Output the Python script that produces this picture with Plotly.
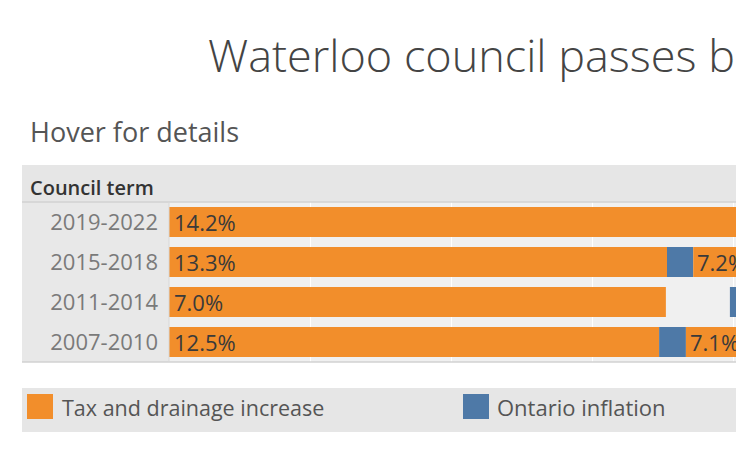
import plotly.graph_objects as go

# ---- data ----
terms = ["2019-2022", "2015-2018", "2011-2014", "2007-2010"]
tax_increase_labels = ["14.2%", "13.3%", "7.0%", "12.5%"]
inflation_labels = ["", "7.2%", "", "7.1%"]
# bar extents as drawn in the (mid-transition) picture, in axis units (%)
tax_bar_len = [21.0, 17.66, 17.62, 17.38]
infl_start = [None, 17.66, 19.89, 17.38]
infl_width = [0, 0.93, 1.2, 0.95]
trail_len = [0, 3.0, 0, 3.0]

ORANGE = "#f28e2b"
BLUE = "#4e79a7"
W, H = 736, 454
FONT = "Open Sans"


def px(x):
    return x / W


def py(y):
    return 1 - y / H


fig = go.Figure()
fig.add_trace(go.Bar(y=terms, x=tax_bar_len, base=0, orientation="h",
                     marker=dict(color=ORANGE, line=dict(width=0)),
                     width=0.75, hoverinfo="skip", name="Tax and drainage increase"))
fig.add_trace(go.Bar(y=terms, x=infl_width, base=[b if b is not None else 0 for b in infl_start],
                     orientation="h", marker=dict(color=BLUE, line=dict(width=0)),
                     width=0.75, hoverinfo="skip", name="Ontario inflation"))
trail_base = [(s + w) if s is not None else 0 for s, w in zip(infl_start, infl_width)]
fig.add_trace(go.Bar(y=terms, x=trail_len, base=trail_base, orientation="h",
                     marker=dict(color=ORANGE, line=dict(width=0)),
                     width=0.75, hoverinfo="skip", showlegend=False))

annotations = []
for t, lab in zip(terms, tax_increase_labels):
    annotations.append(dict(x=0, y=t, xref="x", yref="y", text=lab, showarrow=False,
                            xanchor="left", xshift=3, font=dict(family=FONT, size=22, color="#3a3a3a")))
for t, lab, b in zip(terms, inflation_labels, trail_base):
    if lab:
        annotations.append(dict(x=b, y=t, xref="x", yref="y", text=lab, showarrow=False,
                                xanchor="left", xshift=2, font=dict(family=FONT, size=22, color="#3a3a3a")))

# titles and headers
annotations += [
    dict(x=px(206), y=py(54), xref="paper", yref="paper", text="Waterloo council passes b",
         showarrow=False, xanchor="left", yanchor="middle",
         font=dict(family=FONT, size=45, color="#444444", weight=300)),
    dict(x=px(28), y=py(131), xref="paper", yref="paper", text="Hover for details",
         showarrow=False, xanchor="left", yanchor="middle",
         font=dict(family=FONT, size=27, color="#555555")),
    dict(x=px(28), y=py(187), xref="paper", yref="paper", text="Council term",
         showarrow=False, xanchor="left", yanchor="middle",
         font=dict(family=FONT, size=20, color="#333333", weight=600)),
    dict(x=px(60), y=py(407), xref="paper", yref="paper", text="Tax and drainage increase",
         showarrow=False, xanchor="left", yanchor="middle",
         font=dict(family=FONT, size=21.5, color="#555555")),
    dict(x=px(495), y=py(407), xref="paper", yref="paper", text="Ontario inflation",
         showarrow=False, xanchor="left", yanchor="middle",
         font=dict(family=FONT, size=22, color="#555555")),
]

shapes = [
    dict(type="rect", xref="paper", yref="paper", x0=px(22), x1=1, y0=py(202), y1=py(165),
         fillcolor="#e6e6e6", line=dict(width=0), layer="below"),
    dict(type="rect", xref="paper", yref="paper", x0=px(22), x1=px(169), y0=py(362), y1=py(202),
         fillcolor="#e8e8e8", line=dict(width=0), layer="below"),
    dict(type="line", xref="paper", yref="paper", x0=px(22), x1=1, y0=py(202), y1=py(202),
         line=dict(color="#d2d2d2", width=1.5)),
    dict(type="line", xref="paper", yref="paper", x0=px(22), x1=1, y0=py(362), y1=py(362),
         line=dict(color="#d2d2d2", width=1.5)),
    dict(type="line", xref="paper", yref="paper", x0=px(169), x1=px(169), y0=py(362), y1=py(202),
         line=dict(color="#d8d8d8", width=1)),
    dict(type="rect", xref="paper", yref="paper", x0=px(22), x1=1, y0=py(432), y1=py(388),
         fillcolor="#e6e6e6", line=dict(width=0), layer="below"),
    dict(type="rect", xref="paper", yref="paper", x0=px(27), x1=px(53), y0=py(419), y1=py(394),
         fillcolor=ORANGE, line=dict(width=0)),
    dict(type="rect", xref="paper", yref="paper", x0=px(463), x1=px(489), y0=py(419), y1=py(394),
         fillcolor=BLUE, line=dict(width=0)),
]

fig.update_layout(
    width=W, height=H,
    margin=dict(l=0, r=0, t=0, b=0),
    paper_bgcolor="white",
    plot_bgcolor="#f0f0f0",
    barmode="overlay",
    showlegend=False,
    annotations=annotations,
    shapes=shapes,
    xaxis=dict(domain=[px(169), 1], range=[0, 567 / 28.2], dtick=5, showgrid=True,
               gridcolor="white", gridwidth=1, zeroline=False, showticklabels=False,
               ticks="", fixedrange=True),
    yaxis=dict(domain=[py(362), py(202)], categoryorder="array", categoryarray=terms,
               autorange="reversed", showgrid=False, zeroline=False, ticks="",
               ticklabelstandoff=10, tickfont=dict(family=FONT, size=22, color="#7a7a7a"),
               fixedrange=True),
)

fig.write_html("out.html")
